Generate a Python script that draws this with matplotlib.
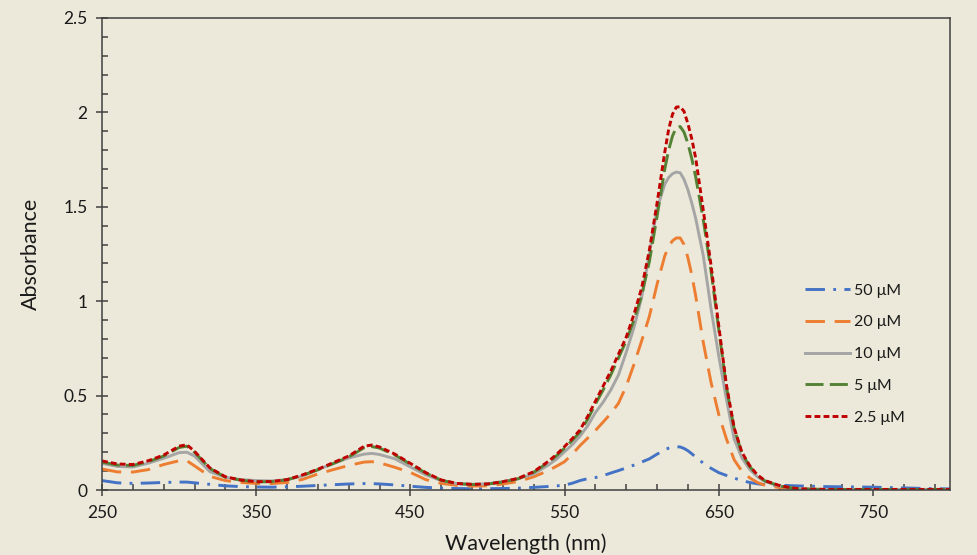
import matplotlib
matplotlib.use("Agg")
import matplotlib.pyplot as plt
from matplotlib.ticker import MultipleLocator, FuncFormatter

plt.rcParams['font.family'] = ['Lato', 'DejaVu Sans']
plt.rcParams['lines.scale_dashes'] = False

wavelength = [250, 260, 270, 280, 290, 300, 305, 310, 320, 330, 340, 350, 360, 370, 380, 390,
              400, 410, 420, 425, 430, 440, 450, 460, 470, 480, 490, 500, 510, 520, 530, 540,
              545, 550, 555, 560, 565, 570, 575, 580, 585, 590, 595, 600, 605, 610, 615, 617.5,
              620, 622.5, 625, 627.5, 630, 632.5, 635, 640, 645, 650, 655, 660, 665, 670, 675, 680,
              690, 700, 710, 720, 730, 740, 750, 760, 770, 780, 790, 800]

abs_50uM = [0.050, 0.038, 0.035, 0.037, 0.040, 0.042, 0.042, 0.038, 0.030, 0.022, 0.018, 0.016, 0.015, 0.017, 0.020, 0.024,
            0.028, 0.032, 0.034, 0.034, 0.032, 0.027, 0.020, 0.014, 0.010, 0.008, 0.007, 0.007, 0.008, 0.010, 0.014, 0.019,
            0.022, 0.026, 0.036, 0.050, 0.060, 0.066, 0.076, 0.090, 0.103, 0.117, 0.132, 0.148, 0.165, 0.190, 0.212, 0.222,
            0.227, 0.229, 0.228, 0.220, 0.208, 0.192, 0.175, 0.142, 0.115, 0.092, 0.077, 0.063, 0.050, 0.040, 0.033, 0.028,
            0.025, 0.022, 0.020, 0.018, 0.017, 0.016, 0.015, 0.013, 0.011, 0.009, 0.007, 0.006]

abs_20uM = [0.111, 0.096, 0.095, 0.108, 0.135, 0.155, 0.155, 0.128, 0.072, 0.050, 0.040, 0.035, 0.034, 0.040, 0.056, 0.085,
            0.108, 0.130, 0.148, 0.150, 0.144, 0.120, 0.093, 0.055, 0.035, 0.025, 0.021, 0.022, 0.032, 0.045, 0.070, 0.105,
            0.127, 0.150, 0.190, 0.235, 0.275, 0.315, 0.360, 0.405, 0.460, 0.550, 0.665, 0.790, 0.920, 1.090, 1.240, 1.290,
            1.320, 1.335, 1.335, 1.300, 1.230, 1.140, 1.030, 0.780, 0.570, 0.400, 0.270, 0.160, 0.100, 0.065, 0.040, 0.025,
            0.012, 0.006, 0.004, 0.003, 0.003, 0.003, 0.003, 0.003, 0.003, 0.003, 0.003, 0.003]

abs_10uM = [0.141, 0.125, 0.122, 0.142, 0.168, 0.198, 0.200, 0.180, 0.097, 0.068, 0.055, 0.050, 0.048, 0.055, 0.074, 0.108,
            0.140, 0.170, 0.190, 0.194, 0.188, 0.165, 0.122, 0.080, 0.050, 0.034, 0.030, 0.033, 0.045, 0.060, 0.085, 0.135,
            0.165, 0.203, 0.240, 0.285, 0.340, 0.410, 0.465, 0.530, 0.610, 0.730, 0.860, 1.020, 1.250, 1.490, 1.620, 1.655,
            1.675, 1.684, 1.680, 1.645, 1.590, 1.520, 1.440, 1.240, 0.960, 0.710, 0.480, 0.270, 0.170, 0.110, 0.070, 0.045,
            0.020, 0.008, 0.004, 0.003, 0.003, 0.003, 0.003, 0.003, 0.003, 0.003, 0.003, 0.003]

abs_5uM = [0.148, 0.132, 0.130, 0.150, 0.180, 0.225, 0.232, 0.200, 0.114, 0.068, 0.052, 0.043, 0.044, 0.054, 0.078, 0.107,
           0.140, 0.175, 0.224, 0.230, 0.222, 0.185, 0.137, 0.090, 0.052, 0.034, 0.029, 0.031, 0.042, 0.060, 0.094, 0.150,
           0.183, 0.222, 0.263, 0.307, 0.375, 0.455, 0.530, 0.610, 0.700, 0.790, 0.900, 1.030, 1.210, 1.450, 1.700, 1.800,
           1.875, 1.920, 1.925, 1.895, 1.835, 1.755, 1.660, 1.430, 1.160, 0.850, 0.545, 0.325, 0.195, 0.125, 0.078, 0.048,
           0.020, 0.008, 0.004, 0.003, 0.003, 0.003, 0.003, 0.003, 0.003, 0.003, 0.003, 0.003]

abs_2_5uM = [0.154, 0.138, 0.135, 0.155, 0.185, 0.232, 0.240, 0.205, 0.117, 0.070, 0.053, 0.044, 0.045, 0.055, 0.080, 0.110,
             0.145, 0.180, 0.232, 0.238, 0.228, 0.190, 0.141, 0.092, 0.053, 0.035, 0.030, 0.032, 0.044, 0.062, 0.097, 0.155,
             0.190, 0.230, 0.272, 0.318, 0.390, 0.470, 0.550, 0.630, 0.720, 0.810, 0.930, 1.070, 1.270, 1.520, 1.790, 1.910,
             1.990, 2.028, 2.030, 2.005, 1.940, 1.860, 1.760, 1.480, 1.190, 0.870, 0.555, 0.330, 0.200, 0.130, 0.080, 0.050,
             0.022, 0.008, 0.004, 0.003, 0.003, 0.003, 0.003, 0.003, 0.003, 0.003, 0.003, 0.003]

labels = ["50 μM", "20 μM", "10 μM", "5 μM", "2.5 μM"]
colors = ["#4472C4", "#ED7D31", "#A5A5A5", "#548235", "#C00000"]
series = [abs_50uM, abs_20uM, abs_10uM, abs_5uM, abs_2_5uM]
dash_styles = [(0, (14, 6, 2, 6)), (0, (14, 7)), "-", (0, (13, 4.5)), (0, (4.2, 2.3))]

bg = "#ECE9DA"
fig = plt.figure(figsize=(9.78, 5.55), dpi=100, facecolor=bg)
ax = fig.add_axes([0.1043, 0.1171, 0.8671, 0.8505], facecolor=bg)

for vals, lab, col, ls in zip(series, labels, colors, dash_styles):
    ax.plot(wavelength, vals, color=col, linestyle=ls, linewidth=2.1, label=lab)

ax.set_xlim(250, 800)
ax.set_ylim(0, 2.5)
ax.xaxis.set_major_locator(MultipleLocator(100, offset=50))
ax.xaxis.set_minor_locator(MultipleLocator(20, offset=10))
ax.yaxis.set_major_locator(MultipleLocator(0.5))
ax.yaxis.set_minor_locator(MultipleLocator(0.1))
ax.yaxis.set_major_formatter(FuncFormatter(lambda v, p: f"{v:g}"))

spine_col = "#404040"
for s in ax.spines.values():
    s.set_color(spine_col)
    s.set_linewidth(1.1)
ax.tick_params(which='major', direction='inout', length=9, width=1.1, color=spine_col,
               labelsize=12.5, labelcolor="#1a1a1a", pad=6)
ax.tick_params(which='minor', direction='in', length=4.5, width=1.1, color=spine_col)
ax.tick_params(top=False, right=False, which='both')

ax.set_xlabel("Wavelength (nm)", fontsize=15.5, color="#1a1a1a", labelpad=9)
ax.set_ylabel("Absorbance", fontsize=15.5, color="#1a1a1a", labelpad=16)

leg = ax.legend(loc='center left', bbox_to_anchor=(0.829, 0.288), frameon=False,
                fontsize=11.5, handlelength=2.8, handletextpad=0.25, labelspacing=1.1,
                borderpad=0, borderaxespad=0)
for t in leg.get_texts():
    t.set_color("#1a1a1a")

fig.savefig("out.png", dpi=100, facecolor=bg)
